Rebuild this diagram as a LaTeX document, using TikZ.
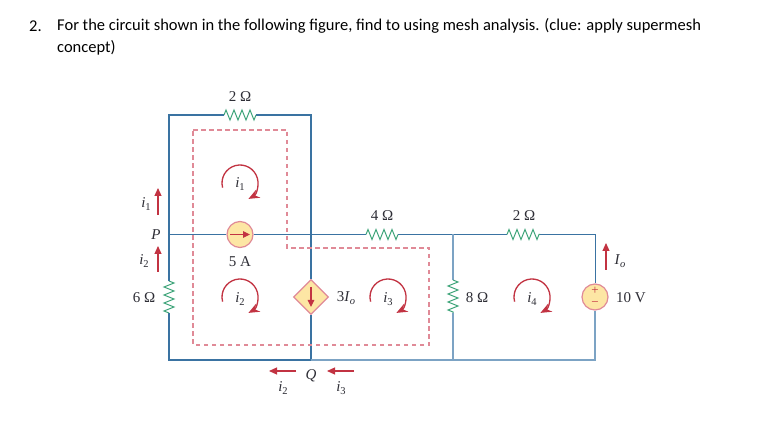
\documentclass[tikz,border=0pt]{standalone}
\usepackage{fontspec}
\setmainfont{Liberation Serif}
\newfontfamily\headfont{Carlito}
\usetikzlibrary{arrows.meta,decorations.pathmorphing,shapes.geometric}
\definecolor{wiredark}{HTML}{3A73A2}
\definecolor{wirelight}{HTML}{7CA3C4}
\definecolor{resgreen}{HTML}{3BA377}
\definecolor{dashred}{HTML}{E08A97}
\definecolor{arrred}{HTML}{C23342}
\definecolor{srcfill}{HTML}{FDE6A4}
\definecolor{textdark}{HTML}{2E2E36}
\newcommand{\isub}[2]{\textit{#1}\raisebox{-2.5pt}{\fontsize{10.5}{10.5}\selectfont #2}}
\tikzset{
  wire/.style={draw=wiredark,line width=1.3pt},
  thinwire/.style={draw=wiredark,line width=0.9pt},
  lightwire/.style={draw=wirelight,line width=1.2pt},
  res/.style={draw=resgreen,line width=1pt,decorate,decoration={zigzag,segment length=8pt,amplitude=5pt}},
  superloop/.style={draw=dashred,line width=1.1pt,dash pattern=on 4.5pt off 3.5pt},
  curarrow/.style={draw=arrred,line width=1.1pt,-{Triangle[length=8pt,width=7pt]}},
  meshloop/.style={draw=arrred,line width=1.3pt,-{Stealth[length=11pt,width=9pt]}},
  src/.style={circle,draw=dashred,line width=1.2pt,fill=srcfill,minimum size=26pt,inner sep=0pt},
  dep/.style={diamond,aspect=1,draw=dashred,line width=1.2pt,fill=srcfill,minimum size=35pt,inner sep=0pt},
  lab/.style={font=\fontsize{15}{15}\selectfont,text=textdark,inner sep=0pt},
  head/.style={font=\headfont\fontsize{16.5}{19}\selectfont,text=black,anchor=west,inner sep=0pt},
}
\begin{document}
\begin{tikzpicture}[x=1pt,y=-1pt]
\useasboundingbox (0,0) rectangle (781,427);
\fill[white] (0,0) rectangle (781,427);
\node[head] (hnum) at (29,26) {2.};
\node[head] (hone) at (57,26) {For the circuit shown in the following figure, find to using mesh analysis. (clue: apply supermesh};
\node[head] (htwo) at (57,48) {concept)};

% corners
\coordinate (tl) at (169,115);
\coordinate (tr) at (311,115);
\coordinate (p) at (169,234.5);
\coordinate (m) at (311,234.5);
\coordinate (e) at (453,234.5);
\coordinate (ne) at (595,234.5);
\coordinate (bl) at (169,360);
\coordinate (bm) at (311,360);
\coordinate (be) at (453,360);
\coordinate (br) at (595,360);
% resistor ends
\coordinate (ra1) at (224,115);  \coordinate (ra2) at (256,115);
\coordinate (rb1) at (366,234.5);\coordinate (rb2) at (398,234.5);
\coordinate (rc1) at (507,234.5);\coordinate (rc2) at (540,234.5);
\coordinate (rd1) at (169,281);  \coordinate (rd2) at (169,313);
\coordinate (re1) at (453,280);  \coordinate (re2) at (453,313);

% sources
\node[src] (cs) at (240,234.5) {};
\node[dep] (ds) at (311,297) {};
\node[src] (vs) at (595,297) {};

% wires
\draw[wire] (ra1) -- (tl) -- (rd1);
\draw[wire] (rd2) -- (bl) -- (bm);
\draw[wire] (ra2) -- (tr) -- (ds.north);
\draw[wire] (ds.south) -- (bm);
\draw[thinwire] (p) -- (cs.west);
\draw[thinwire] (cs.east) -- (rb1);
\draw[thinwire] (rb2) -- (rc1);
\draw[thinwire] (rc2) -- (ne) -- (vs.north);
\draw[lightwire] (bm) -- (br) -- (vs.south);
\draw[lightwire] (e) -- (re1);
\draw[lightwire] (re2) -- (be);

% resistors
\draw[res] (ra1) -- (ra2);
\draw[res] (rb1) -- (rb2);
\draw[res] (rc1) -- (rc2);
\draw[res] (rd1) -- (rd2);
\draw[res] (re1) -- (re2);

% supermesh outline
\draw[superloop] (193,130) -- (287,130) -- (287,248) -- (429,248) -- (429,345) -- (193,345) -- cycle;

% source symbols
\coordinate (csa) at (230,234.5); \coordinate (csb) at (250,234.5);
\draw[draw=arrred,line width=1.2pt,-{Triangle[length=7pt,width=6.5pt]}] (csa) -- (csb);
\coordinate (dsa) at (311,287); \coordinate (dsb) at (311,307);
\draw[draw=arrred,line width=1.2pt,-{Triangle[length=7pt,width=6.5pt]}] (dsa) -- (dsb);
\node[font=\fontsize{13}{13}\selectfont,text=arrred,inner sep=0pt] (vplus) at (595,290.5) {+};
\node[font=\fontsize{13}{13}\selectfont,text=arrred,inner sep=0pt] (vminus) at (595,304) {−};

% mesh loops
\foreach \n/\cx/\cy in {a/240/183,b/240/297,c/388/297,d/532/297}{
  \coordinate (mesh\n) at (\cx,\cy);
  \draw[meshloop] (mesh\n) ++(195:18pt) arc[start angle=195,end angle=-62,radius=18pt];
}
\node[lab] (li1) at (240,184) {\isub{i}{1}};
\node[lab] (li2) at (240,299) {\isub{i}{2}};
\node[lab] (li3) at (388,299) {\isub{i}{3}};
\node[lab] (li4) at (532,299) {\isub{i}{4}};

% branch current arrows
\coordinate (a1s) at (158,215); \coordinate (a1e) at (158,188);
\coordinate (a2s) at (158,272); \coordinate (a2e) at (158,246);
\coordinate (a3s) at (296,371); \coordinate (a3e) at (269,371);
\coordinate (a4s) at (354,371); \coordinate (a4e) at (327,371);
\coordinate (a5s) at (606,270); \coordinate (a5e) at (606,243);
\draw[curarrow] (a1s) -- (a1e);
\draw[curarrow] (a2s) -- (a2e);
\draw[curarrow] (a3s) -- (a3e);
\draw[curarrow] (a4s) -- (a4e);
\draw[curarrow] (a5s) -- (a5e);

% labels
\node[lab] (lra) at (240,97) {2 Ω};
\node[lab] (lrb) at (382,216) {4 Ω};
\node[lab] (lrc) at (524,216) {2 Ω};
\node[lab] (lrd) at (144,298) {6 Ω};
\node[lab] (lre) at (477,298) {8 Ω};
\node[lab] (lcs) at (240,262) {5 A};
\node[lab] (lds) at (346,298) {3\textit{I}\raisebox{-2.5pt}{\fontsize{10.5}{10.5}\selectfont\textit{o}}};
\node[lab] (lvs) at (631,298) {10 V};
\node[lab] (lio) at (620,261) {\textit{I}\raisebox{-2.5pt}{\fontsize{10.5}{10.5}\selectfont\textit{o}}};
\node[lab] (lP) at (156,235) {\textit{P}};
\node[lab] (lQ) at (311,376) {\textit{Q}};
\node[lab] (la1) at (146,204) {\isub{i}{1}};
\node[lab] (la2) at (144,261) {\isub{i}{2}};
\node[lab] (la3) at (283,388) {\isub{i}{2}};
\node[lab] (la4) at (341,388) {\isub{i}{3}};
\end{tikzpicture}
\end{document}
